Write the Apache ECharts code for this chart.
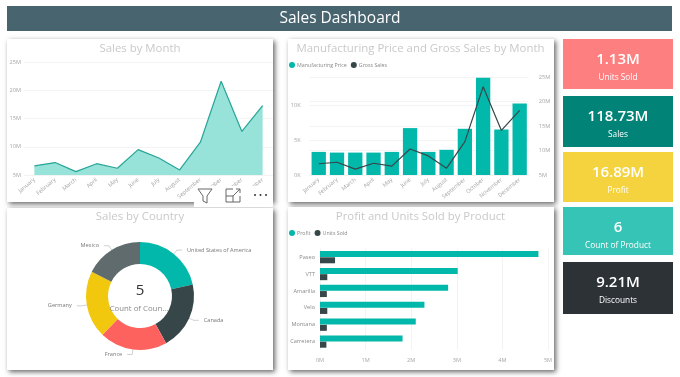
<!DOCTYPE html>
<html>
<head>
<meta charset="utf-8">
<title>Sales Dashboard</title>
<script src="https://cdn.jsdelivr.net/npm/echarts@6/dist/echarts.min.js"></script>
<style>
	html, body { margin: 0; padding: 0; background: #fff; }
	#chart { width: 680px; height: 377px; }
</style>
</head>
<body>
<div id="chart"></div>
<script>
var months = ['January','February','March','April','May','June','July','August','September','October','November','December'];
var salesByMonth = [6.6,7.2,5.6,7.0,6.2,9.5,8.0,5.9,10.8,21.6,12.7,17.3];
var manufacturingPrice = [3.3,3.2,3.2,3.2,3.3,6.7,3.3,3.6,6.6,13.9,6.5,10.2];
var grossSales = [7.3,7.6,6.2,7.4,6.8,10.3,8.9,6.4,11.8,23.0,14.1,18.2];

var countries = ['United States of America','Canada','France','Germany','Mexico'];
var countrySales = [25.6,24.2,24.1,23.9,20.9];

var products = ['Paseo','VTT','Amarilla','Velo','Montana','Carretera'];
var productProfit = [4.79,3.02,2.81,2.29,2.10,1.81];
var productUnits = [0.33,0.16,0.15,0.16,0.15,0.14];

var cardValues = ['1.13M','118.73M','16.89M','6','9.21M'];
var cardLabels = ['Units Sold','Sales','Profit','Count of Product','Discounts'];

var font = '"Open Sans", sans-serif';
var teal = '#01b8aa';
var dark = '#374649';
var axisColor = '#a6a6a6';
var gridColor = '#f3f3f3';
var titleColor = '#c9c9c9';

// panels and cards, drawn behind the charts
var cardBoxes = [
	{y: 39, h: 50, color: '#fd7f7f'},
	{y: 96, h: 51, color: '#028377'},
	{y: 152, h: 50, color: '#f5d33f'},
	{y: 207, h: 48, color: '#35c4b6'},
	{y: 262, h: 52, color: '#2d3236'}
];
var panelBoxes = [
	{x: 7, y: 39, w: 266, h: 163},
	{x: 288, y: 39, w: 266, h: 163},
	{x: 7, y: 208, w: 266, h: 162},
	{x: 288, y: 207, w: 266, h: 163}
];

var graphics = [];
panelBoxes.forEach(function (p) {
	graphics.push({
		type: 'rect',
		z: -10,
		shape: {x: p.x, y: p.y, width: p.w, height: p.h},
		style: {fill: '#fff', shadowBlur: 5, shadowColor: 'rgba(0,0,0,0.6)', shadowOffsetX: 2, shadowOffsetY: 2}
	});
});
graphics.push({
	type: 'rect',
	z: -5,
	shape: {x: 7, y: 6, width: 665, height: 25},
	style: {fill: '#47646f'}
});
graphics.push({
	type: 'text',
	z: 10,
	x: 340,
	y: 18.5,
	style: {text: 'Sales Dashboard', fill: '#fff', font: '500 15.5px ' + font, align: 'center', verticalAlign: 'middle'}
});
cardBoxes.forEach(function (c, i) {
	graphics.push({
		type: 'rect',
		z: -5,
		shape: {x: 563, y: c.y, width: 110, height: c.h},
		style: {fill: c.color}
	});
	graphics.push({
		type: 'text',
		z: 10,
		x: 618,
		y: c.y + 20.5,
		style: {text: cardValues[i], fill: '#fff', font: '600 15px ' + font, align: 'center', verticalAlign: 'middle'}
	});
	graphics.push({
		type: 'text',
		z: 10,
		x: 618,
		y: c.y + 38.5,
		style: {text: cardLabels[i], fill: '#fff', font: '8.3px ' + font, align: 'center', verticalAlign: 'middle'}
	});
});

// visual header icons on top of the first panel
var iconColor = '#666';
graphics.push({
	type: 'rect',
	z: 100,
	shape: {x: 194, y: 186, width: 79, height: 21},
	style: {fill: '#fff'}
});
graphics.push({
	type: 'polyline',
	z: 101,
	shape: {points: [[198,189],[212,189],[207,196],[207,203],[203,201],[203,196],[198,189]]},
	style: {fill: 'none', stroke: iconColor, lineWidth: 1}
});
graphics.push({
	type: 'polyline',
	z: 101,
	shape: {points: [[233,189],[226,189],[226,202],[240,202],[240,196]]},
	style: {fill: 'none', stroke: iconColor, lineWidth: 1}
});
graphics.push({
	type: 'polyline',
	z: 101,
	shape: {points: [[226,196],[233,196],[233,202]]},
	style: {fill: 'none', stroke: iconColor, lineWidth: 1}
});
graphics.push({
	type: 'polyline',
	z: 101,
	shape: {points: [[233,196],[240,189]]},
	style: {fill: 'none', stroke: iconColor, lineWidth: 1}
});
graphics.push({
	type: 'polyline',
	z: 101,
	shape: {points: [[236,189],[240,189],[240,193]]},
	style: {fill: 'none', stroke: iconColor, lineWidth: 1}
});
[255, 260.5, 266].forEach(function (dotX) {
	graphics.push({
		type: 'circle',
		z: 101,
		shape: {cx: dotX, cy: 195, r: 1},
		style: {fill: '#333'}
	});
});

function panelTitle(text, x, y) {
	return {
		text: text,
		left: x,
		top: y,
		textAlign: 'center',
		textStyle: {color: titleColor, fontFamily: font, fontWeight: 'normal', fontSize: 11.4}
	};
}

function monthAxis(gridIndex) {
	return {
		type: 'category',
		gridIndex: gridIndex,
		data: months,
		axisLine: {show: false},
		axisTick: {show: false},
		axisLabel: {interval: 0, rotate: 40, fontSize: 5.6, color: axisColor, fontFamily: font, margin: 4}
	};
}

function valueAxis(gridIndex, min, max, interval, unit, position, margin) {
	return {
		type: 'value',
		gridIndex: gridIndex,
		position: position,
		min: min,
		max: max,
		interval: interval,
		axisLine: {show: false},
		axisTick: {show: false},
		axisLabel: {fontSize: 5.6, color: axisColor, fontFamily: font, margin: margin, formatter: '{value}' + unit, showMaxLabel: max % interval === 0},
		splitLine: {lineStyle: {color: gridColor}, showMaxLine: max % interval === 0}
	};
}

var option = {
	animation: false,
	backgroundColor: '#fff',
	textStyle: {fontFamily: font},
	graphic: graphics,
	title: [
		panelTitle('Sales by Month', 135, 38),
		panelTitle('Manufacturing Price and Gross Sales by Month', 415.5, 38),
		panelTitle('Sales by Country', 135, 206),
		panelTitle('Profit and Units Sold by Product', 415.5, 206),
		{
			text: '5',
			left: 135,
			top: 278,
			textAlign: 'center',
			textStyle: {color: '#333', fontFamily: font, fontWeight: 'normal', fontSize: 15}
		},
		{
			text: 'Count of Coun...',
			left: 134,
			top: 300,
			textAlign: 'center',
			textStyle: {color: '#8a8a8a', fontFamily: font, fontWeight: 'normal', fontSize: 7.8}
		}
	],
	legend: [
		{
			left: 284,
			top: 57,
			itemWidth: 6,
			itemHeight: 6,
			itemGap: 4,
			icon: 'circle',
			textStyle: {fontSize: 5.3, color: '#888', fontFamily: font, padding: [0, 0, 0, -3]},
			data: ['Manufacturing Price', 'Gross Sales']
		},
		{
			left: 284,
			top: 225,
			itemWidth: 6,
			itemHeight: 6,
			itemGap: 4,
			icon: 'circle',
			textStyle: {fontSize: 5.3, color: '#888', fontFamily: font, padding: [0, 0, 0, -3]},
			data: ['Profit', 'Units Sold']
		}
	],
	grid: [
		{left: 24, top: 62, width: 249, height: 113},
		{left: 309.6, top: 77, width: 219.2, height: 98},
		{left: 320, top: 248.7, width: 228, height: 101.3}
	],
	xAxis: [
		monthAxis(0),
		monthAxis(1),
		valueAxis(2, 0, 5, 1, 'M', 'bottom', 7)
	],
	yAxis: [
		valueAxis(0, 5, 25, 5, 'M', 'left', 3),
		valueAxis(1, 0, 14, 5, 'K', 'left', 9),
		valueAxis(1, 5, 25, 5, 'M', 'right', 10),
		{
			type: 'category',
			gridIndex: 2,
			inverse: true,
			data: products,
			axisLine: {show: false},
			axisTick: {show: false},
			axisLabel: {fontSize: 5.6, color: '#8a8a8a', fontFamily: font, margin: 5}
		}
	],
	series: [
		{
			name: 'Sales',
			type: 'line',
			xAxisIndex: 0,
			yAxisIndex: 0,
			data: salesByMonth,
			symbol: 'none',
			lineStyle: {color: '#27a597', width: 1.2},
			areaStyle: {color: '#97e2d9', opacity: 1}
		},
		{
			name: 'Manufacturing Price',
			type: 'bar',
			xAxisIndex: 1,
			yAxisIndex: 1,
			data: manufacturingPrice,
			barWidth: 14.3,
			itemStyle: {color: teal}
		},
		{
			name: 'Gross Sales',
			type: 'line',
			xAxisIndex: 1,
			yAxisIndex: 2,
			data: grossSales,
			symbol: 'none',
			itemStyle: {color: dark},
			lineStyle: {color: dark, width: 1.2}
		},
		{
			name: 'Country',
			type: 'pie',
			center: [140, 296],
			radius: [32, 54],
			startAngle: 90,
			data: countries.map(function (name, i) {
				return {name: name, value: countrySales[i]};
			}),
			color: [teal, dark, '#fd625e', '#f2c80f', '#5f6b6d'],
			label: {fontSize: 5.6, color: '#777', fontFamily: font},
			labelLine: {length: 5, length2: 5, lineStyle: {color: '#bbb', width: 0.7}}
		},
		{
			name: 'Profit',
			type: 'bar',
			xAxisIndex: 2,
			yAxisIndex: 3,
			data: productProfit,
			barWidth: 6,
			barGap: '5%',
			itemStyle: {color: teal}
		},
		{
			name: 'Units Sold',
			type: 'bar',
			xAxisIndex: 2,
			yAxisIndex: 3,
			data: productUnits,
			barWidth: 6,
			barGap: '5%',
			itemStyle: {color: dark}
		}
	]
};

var myChart = echarts.init(document.getElementById('chart'));
myChart.setOption(option);
</script>
</body>
</html>
